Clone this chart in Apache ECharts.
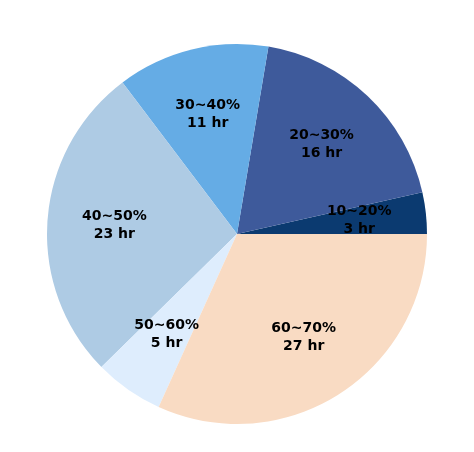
<!DOCTYPE html>
<html><head><meta charset="utf-8">
<script src="https://cdn.jsdelivr.net/npm/echarts@6/dist/echarts.min.js"></script>
<style>html,body{margin:0;padding:0;background:#fff}#c{width:474px;height:452px}</style>
</head><body><div id="c"></div>
<script>
const categories = ['0~10%','10~20%','20~30%','30~40%','40~50%','50~60%','60~70%'];
const hours = [0,3,16,11,23,5,27];
const colors = ['#08306b','#0b3a70','#3e5a9b','#65ace5','#aecbe4','#deedfd','#f9dbc3'];
const chart = echarts.init(document.getElementById('c'));
const data = categories.map((c,i)=>({name:c,value:hours[i],itemStyle:{color:colors[i]}}));
chart.setOption({
  animation:false,
  series:[
    {type:'pie',center:[237,234],radius:[0,190],startAngle:0,clockwise:false,
     stillShowZeroSum:true,minAngle:0,label:{show:false},labelLine:{show:false},
     itemStyle:{borderWidth:0},data:data,silent:true},
    {type:'pie',center:[237,234],radius:[0,240],startAngle:0,clockwise:false,
     minShowLabelAngle:0,silent:true,
     itemStyle:{color:'rgba(0,0,0,0)',borderWidth:0},
     label:{show:true,position:'inside',color:'#000',fontWeight:'bold',fontSize:14,
       fontFamily:'DejaVu Sans',lineHeight:18,
       formatter:p=>p.name+'\n'+p.value+' hr'},
     labelLine:{show:false},
     data:categories.map((c,i)=>({name:c,value:hours[i]}))}
  ]
});
</script></body></html>
